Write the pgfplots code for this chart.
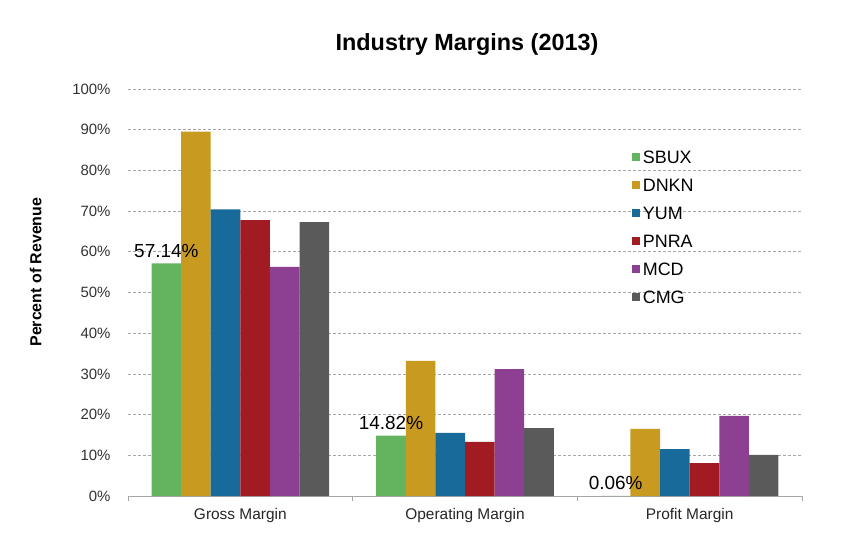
\documentclass[border=0pt]{standalone}
\usepackage{pgfplots}
\pgfplotsset{compat=1.18}
\usepackage{fontspec}
\setmainfont{Liberation Sans}

\definecolor{cSBUX}{HTML}{64B45F}
\definecolor{cDNKN}{HTML}{C89A20}
\definecolor{cYUM}{HTML}{186A9A}
\definecolor{cPNRA}{HTML}{A21B23}
\definecolor{cMCD}{HTML}{8D3F91}
\definecolor{cCMG}{HTML}{5A5A5A}
\definecolor{gridgray}{HTML}{A6A6A6}

\begin{document}
\begin{tikzpicture}
  \path[use as bounding box] (-128bp,-40bp) rectangle (718bp,496bp);
  \begin{axis}[
    at={(0,0)}, anchor=south west,
    scale only axis,
    width=674bp, height=407bp,
    ybar=0pt,
    bar width=29.6bp,
    xmin=-0.5, xmax=2.5,
    ymin=0, ymax=100,
    xtick={-0.5,0.5,1.5,2.5},
    xticklabels={},
    major x tick style={draw=gridgray, line width=0.8bp},
    x tick label style={font=\fontsize{15.5}{18}\selectfont, color=black!85, yshift=-9bp},
    extra x ticks={0,1,2},
    extra x tick labels={Gross Margin, Operating Margin, Profit Margin},
    extra x tick style={grid=none, major tick length=0pt},
    tick align=outside,
    major tick length=5bp,
    ytick={0,10,...,100},
    yticklabel={\pgfmathprintnumber{\tick}\%},
    /pgf/number format/assume math mode=true,
    y tick label style={font=\fontsize{15}{18}\selectfont, color=black!80, xshift=-9bp},
    ytick style={draw=none},
    ymajorgrids,
    major grid style={draw=gridgray, dash pattern=on 3bp off 2bp, line width=0.7bp},
    axis lines*=left,
    axis line style={-},
    x axis line style={draw=gridgray, line width=0.8bp},
    y axis line style={draw=none},
    ylabel={Percent of Revenue},
    ylabel style={font=\bfseries\fontsize{16}{18}\selectfont,
      at={(axis description cs:-0.137,0.55)}, anchor=center},
    title={Industry Margins (2013)},
    title style={font=\bfseries\fontsize{23.5}{26}\selectfont,
      at={(axis description cs:0.5,1)}, anchor=center, xshift=2bp, yshift=39bp},
    legend cell align=left,
    legend style={draw=none, fill=none,
      at={(axis description cs:0.748,0.85)}, anchor=north west,
      inner sep=0pt, row sep=15bp,
      nodes={font=\fontsize{18}{20}\selectfont, text height=13bp, text depth=0bp,
        inner ysep=0pt, inner xsep=2.5bp}},
    legend image code/.code={\fill[#1] (0bp,-4bp) rectangle (8bp,4bp);},
    every axis plot/.append style={draw=none},
  ]
    \addplot[fill=cSBUX,
      nodes near coords={\pgfmathprintnumber[fixed,precision=2,fixed zerofill]{\pgfplotspointmeta}\%},
      nodes near coords align={vertical},
      every node near coord/.append style={font=\fontsize{19}{21}\selectfont,
        color=black, inner sep=0pt, yshift=6bp}]
      coordinates {(0,57.14) (1,14.82) (2,0.06)};
    \addplot[fill=cDNKN] coordinates {(0,89.5) (1,33.2) (2,16.5)};
    \addplot[fill=cYUM]  coordinates {(0,70.4) (1,15.5) (2,11.5)};
    \addplot[fill=cPNRA] coordinates {(0,67.8) (1,13.3) (2,8.1)};
    \addplot[fill=cMCD]  coordinates {(0,56.3) (1,31.2) (2,19.7)};
    \addplot[fill=cCMG]  coordinates {(0,67.3) (1,16.7) (2,10.1)};
    \legend{SBUX, DNKN, YUM, PNRA, MCD, CMG}
  \end{axis}
\end{tikzpicture}
\end{document}
